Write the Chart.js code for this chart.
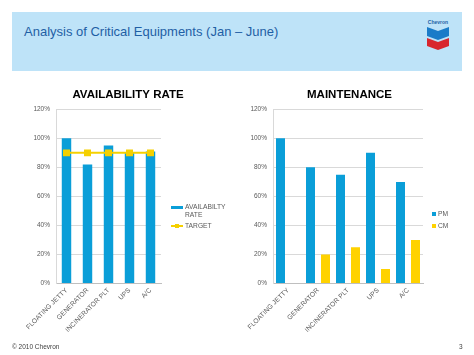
<!DOCTYPE html>
<html>
<head>
<meta charset="utf-8">
<script src="https://cdn.jsdelivr.net/npm/chart.js@4/dist/chart.umd.min.js"></script>
<style>
  html,body{margin:0;padding:0;background:#fff;}
  body{width:474px;height:355px;position:relative;overflow:hidden;font-family:"Liberation Sans",Arial,sans-serif;}
  #header{position:absolute;left:12px;top:12px;width:450px;height:59px;background:#BEE3F8;}
  #htitle{position:absolute;left:24px;top:24px;font-size:13px;color:#1F5FA5;white-space:nowrap;}
  #logo{position:absolute;left:423px;top:19px;}
  .cv{position:absolute;}
  .leg{position:absolute;font-size:6.7px;color:#595959;line-height:8px;}
  .foot{position:absolute;font-size:6.5px;color:#404040;}
</style>
</head>
<body>
<div id="header"></div>
<div id="htitle">Analysis of Critical Equipments (Jan – June)</div>
<svg id="logo" width="30" height="32" viewBox="0 0 30 32">
  <text x="15" y="5" font-size="5" font-weight="bold" fill="#1F5FA5" text-anchor="middle" font-family="Liberation Sans, Arial">Chevron</text>
  <path d="M4,8 L15,12 L26,8 L26,17 L15,21 L4,17 Z" fill="#1A7BC8"/>
  <path d="M4,19 L15,23 L26,19 L26,27 L15,31 L4,27 Z" fill="#D8262E"/>
</svg>

<div class="cv" style="left:0;top:80px;width:256px;height:275px;"><canvas id="c1"></canvas></div>
<div class="cv" style="left:240px;top:80px;width:219px;height:275px;"><canvas id="c2"></canvas></div>

<div class="leg" style="left:171px;top:203px;">
  <span style="display:inline-block;width:12px;height:3px;background:#0A9ED8;vertical-align:middle;margin-right:2px;"></span>AVAILABILTY<br><span style="margin-left:14px;">RATE</span>
</div>
<div class="leg" style="left:171px;top:222px;">
  <span style="display:inline-block;width:12px;height:8px;position:relative;vertical-align:middle;margin-right:2px;"><span style="position:absolute;left:0;top:3px;width:12px;height:1.5px;background:#F5D000;"></span><span style="position:absolute;left:4px;top:2px;width:4px;height:4px;background:#F5D000;"></span></span>TARGET
</div>
<div class="leg" style="left:432px;top:210px;">
  <span style="display:inline-block;width:4px;height:4px;background:#0A9ED8;margin-right:2px;"></span>PM
</div>
<div class="leg" style="left:432px;top:222px;">
  <span style="display:inline-block;width:4px;height:4px;background:#FFD200;margin-right:2px;"></span>CM
</div>

<div class="foot" style="left:12px;top:343px;">© 2010 Chevron</div>
<div class="foot" style="left:459px;top:343px;">3</div>

<script>
const categories = ["FLOATING JETTY", "GENERATOR", "INCINERATOR PLT", "UPS", "A/C"];
const availabilityRate = [100, 82, 95, 90, 91];
const target = [90, 90, 90, 90, 90];
const pm = [100, 80, 75, 90, 70];
const cm = [0, 20, 25, 10, 30];
const yTicks = [0, 20, 40, 60, 80, 100, 120];

const BLUE = "#0A9ED8", YELLOW = "#F5D000", YELLOW2 = "#FFD200";
const FONT = "'Liberation Sans', Arial, sans-serif";

function makeOptions(titleText, yWidth, rightSpace) {
  return {
    responsive: true,
    maintainAspectRatio: false,
    animation: false,
    layout: { padding: 0 },
    plugins: {
      legend: { display: false },
      tooltip: { enabled: false },
      title: {
        display: true, text: titleText, color: "#000",
        font: { family: FONT, size: 11.5, weight: "bold", lineHeight: 1.2 },
        padding: { top: 8, bottom: 7.5 }
      }
    },
    scales: {
      x: {
        grid: { display: false, drawTicks: false },
        border: { display: true, color: "#BFBFBF" },
        ticks: { color: "#595959", font: { family: FONT, size: 6.7 }, minRotation: 45, maxRotation: 45, padding: 3, autoSkip: false },
        afterFit: s => { s.height = 71.5; }
      },
      y: {
        min: 0, max: 120,
        afterBuildTicks: s => { s.ticks = yTicks.map(v => ({ value: v })); },
        grid: { color: "#D9D9D9", drawTicks: false },
        border: { display: true, color: "#D9D9D9" },
        ticks: { color: "#595959", font: { family: FONT, size: 6.5 }, padding: 6, callback: v => v + "%" },
        afterFit: s => { s.width = yWidth; }
      },
      side: {
        type: "linear", position: "right", display: true,
        grid: { display: false, drawTicks: false },
        border: { display: false },
        ticks: { display: false },
        afterFit: s => { s.width = rightSpace; }
      }
    }
  };
}

new Chart(document.getElementById("c1"), {
  data: {
    labels: categories,
    datasets: [
      { type: "line", label: "TARGET", data: target, borderColor: YELLOW, backgroundColor: YELLOW,
        borderWidth: 2, pointStyle: "rect", pointRadius: 3.5, order: 0 },
      { type: "bar", label: "AVAILABILTY RATE", data: availabilityRate, backgroundColor: BLUE,
        barPercentage: 0.45, categoryPercentage: 1.0, order: 1 }
    ]
  },
  options: makeOptions("AVAILABILITY RATE", 56, 95)
});

new Chart(document.getElementById("c2"), {
  type: "bar",
  data: {
    labels: categories,
    datasets: [
      { label: "PM", data: pm, backgroundColor: BLUE, barPercentage: 0.6, categoryPercentage: 1.0 },
      { label: "CM", data: cm, backgroundColor: YELLOW2, barPercentage: 0.6, categoryPercentage: 1.0 }
    ]
  },
  options: makeOptions("MAINTENANCE", 33, 36)
});
</script>
</body>
</html>
